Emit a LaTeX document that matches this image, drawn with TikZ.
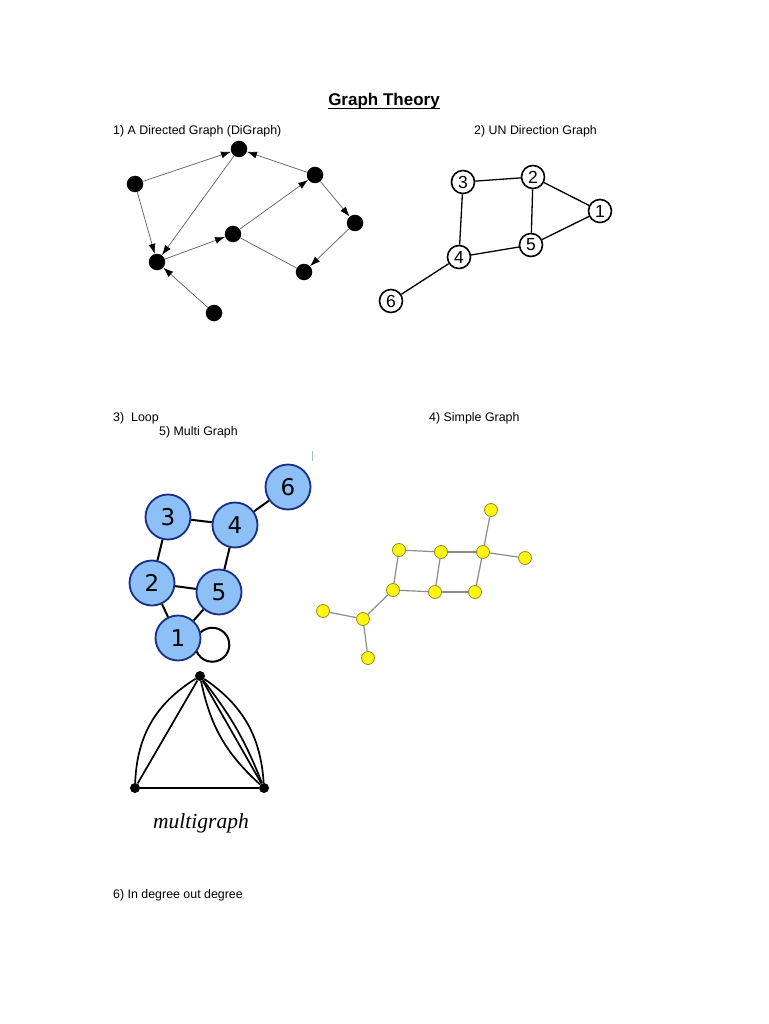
\documentclass[tikz,border=0pt]{standalone}
\usepackage{fontspec}
\setmainfont{Liberation Sans}
\newfontfamily\dejavu{DejaVu Sans}
\newfontfamily\tnr{Liberation Serif}
\usetikzlibrary{arrows.meta}
\definecolor{nodeblue}{RGB}{140,192,246}
\definecolor{borderblue}{RGB}{25,45,130}
\definecolor{yel}{RGB}{255,245,20}
\definecolor{yelborder}{RGB}{150,140,20}
\definecolor{edgegray}{RGB}{140,140,140}
\definecolor{arcgray}{RGB}{95,95,95}
\definecolor{markblue}{RGB}{170,180,220}
\begin{document}
\begin{tikzpicture}[x=1pt,y=-1pt,
  lbl/.style={anchor=base west,inner sep=0,font=\fontsize{12.4}{14}\selectfont},
  dnode/.style={circle,fill=black,minimum size=16.5pt,inner sep=0},
  darr/.style={draw=arcgray,line width=0.7pt,-{Latex[length=10pt,width=7pt,color=black]}},
  dline/.style={draw=arcgray,line width=0.7pt},
  unode/.style={circle,draw=black,line width=1.6pt,fill=white,minimum size=23pt,inner sep=0,font=\fontsize{17.5}{17.5}\selectfont},
  uedge/.style={draw=black,line width=1.3pt},
  bnode/.style={circle,draw=borderblue,line width=1.8pt,fill=nodeblue,minimum size=45pt,inner sep=0,font=\dejavu\fontsize{23}{23}\selectfont},
  bedge/.style={draw=black,line width=2pt},
  ynode/.style={circle,draw=yelborder,line width=0.8pt,fill=yel,minimum size=13pt,inner sep=0},
  yedge/.style={draw=edgegray,line width=1.2pt},
  mnode/.style={circle,fill=black,minimum size=10pt,inner sep=0},
  medge/.style={draw=black,line width=1.7pt}
]
\useasboundingbox (0,0) rectangle (768,1024);
\fill[white] (0,0) rectangle (768,1024);

% ---- texts
\node[anchor=base,inner sep=0,font=\bfseries\fontsize{17}{19}\selectfont] (title) at (384,106) {Graph Theory};
\draw[line width=1pt] ([yshift=-2.5pt]title.base west) -- ([yshift=-2.5pt]title.base east);
\node[lbl] (t1) at (113,135) {1) A Directed Graph (DiGraph)};
\node[lbl] (t2) at (474,135) {2) UN Direction Graph};
\node[lbl] (t3) at (113,421.5) {3)~ Loop};
\node[lbl] (t5) at (159,435.5) {5) Multi Graph};
\node[lbl] (t4) at (429,421.5) {4) Simple Graph};
\node[lbl] (t6) at (113,898.5) {6) In degree out degree};

% ---- 1) directed graph
\node[dnode] (dA) at (239,149) {};
\node[dnode] (dB) at (135,184) {};
\node[dnode] (dC) at (315,175) {};
\node[dnode] (dD) at (355,223) {};
\node[dnode] (dE) at (233,234) {};
\node[dnode] (dF) at (157,262) {};
\node[dnode] (dG) at (304,272) {};
\node[dnode] (dH) at (214,313) {};
\draw[darr] (dB) -- (dA);
\draw[darr] (dC) -- (dA);
\draw[darr] (dA) -- (dF);
\draw[darr] (dB) -- (dF);
\draw[darr] (dF) -- (dE);
\draw[darr] (dE) -- (dC);
\draw[darr] (dC) -- (dD);
\draw[darr] (dD) -- (dG);
\draw[dline] (dE) -- (dG);
\draw[darr] (dH) -- (dF);

% ---- 2) undirected graph
\node[unode] (u3) at (463,182) {3};
\node[unode] (u2) at (533,177) {2};
\node[unode] (u1) at (600,211) {1};
\node[unode] (u5) at (531,245) {5};
\node[unode] (u4) at (459,257) {4};
\node[unode] (u6) at (391,301) {6};
\draw[uedge] (u3) -- (u2);
\draw[uedge] (u2) -- (u1);
\draw[uedge] (u2) -- (u5);
\draw[uedge] (u1) -- (u5);
\draw[uedge] (u3) -- (u4);
\draw[uedge] (u4) -- (u5);
\draw[uedge] (u4) -- (u6);

% ---- 3) loop graph
\node[bnode] (b6) at (288,487) {6};
\node[bnode] (b3) at (168,517) {3};
\node[bnode] (b4) at (235,525) {4};
\node[bnode] (b2) at (152,583) {2};
\node[bnode] (b5) at (219,592) {5};
\node[bnode] (b1) at (178,638) {1};
\draw[bedge] (b3) -- (b4);
\draw[bedge] (b4) -- (b6);
\draw[bedge] (b3) -- (b2);
\draw[bedge] (b4) -- (b5);
\draw[bedge] (b2) -- (b5);
\draw[bedge] (b2) -- (b1);
\draw[bedge] (b5) -- (b1);
\draw[bedge] (b1.14) arc[start angle=133, end angle=-156, radius=17pt];
\draw[markblue,line width=0.8pt] (312,451) -- (312,461);

% ---- 4) simple graph
\node[ynode] (ya) at (491,510) {};
\node[ynode] (yb) at (399,550) {};
\node[ynode] (yc) at (441,552) {};
\node[ynode] (yd) at (483,552) {};
\node[ynode] (ye) at (525,558) {};
\node[ynode] (yf) at (393,590) {};
\node[ynode] (yg) at (435,592) {};
\node[ynode] (yh) at (475,592) {};
\node[ynode] (yi) at (323,611) {};
\node[ynode] (yj) at (363,619) {};
\node[ynode] (yk) at (368,658) {};
\draw[yedge] (ya) -- (yd);
\draw[yedge] (yb) -- (yc);
\draw[yedge] (yc) -- (yd);
\draw[yedge] (yd) -- (ye);
\draw[yedge] (yb) -- (yf);
\draw[yedge] (yc) -- (yg);
\draw[yedge] (yd) -- (yh);
\draw[yedge] (yf) -- (yg);
\draw[yedge] (yg) -- (yh);
\draw[yedge] (yf) -- (yj);
\draw[yedge] (yi) -- (yj);
\draw[yedge] (yj) -- (yk);

% ---- 5) multigraph
\node[mnode] (mt) at (200,676) {};
\node[mnode] (ml) at (135,788) {};
\node[mnode] (mr) at (264,788) {};
\draw[medge] (ml) -- (mr);
\draw[medge] (mt) -- (ml);
\draw[medge] (mt) to[bend right=28] (ml);
\draw[medge] (mt) -- (mr);
\draw[medge] (mt) to[bend right=18] (mr);
\draw[medge] (mt) to[bend left=8] (mr);
\draw[medge] (mt) to[bend left=26] (mr);
\node[inner sep=0,font=\tnr\itshape\fontsize{21.5}{22}\selectfont] (mlabel) at (201,823) {multigraph};
\end{tikzpicture}
\end{document}
